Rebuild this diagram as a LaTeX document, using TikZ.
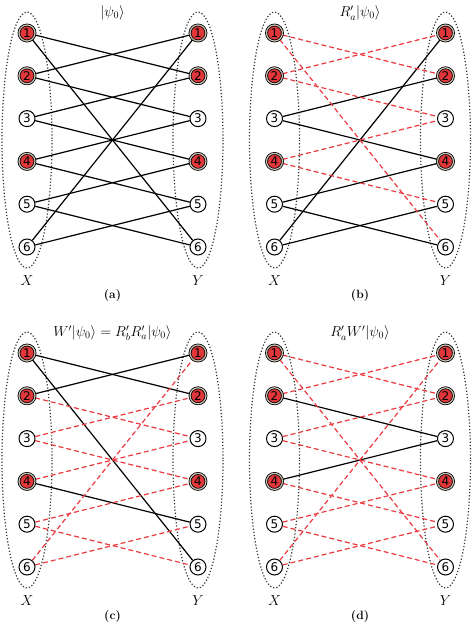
\documentclass[tikz,border=0pt]{standalone}
\usepackage{fontspec}
\usepackage{amsmath}
\usepackage{tikz}
\usetikzlibrary{backgrounds}
\newfontfamily\digitfont{DejaVu Sans}
\definecolor{nodered}{HTML}{E0373A}
\definecolor{dashred}{HTML}{EA3A40}
\definecolor{ringgray}{HTML}{C9C0B4}

\begin{document}
\begin{tikzpicture}[
    x=1pt, y=-1pt,
    vtx/.style={circle, draw, line width=1pt, fill=white, minimum size=16pt, inner sep=0pt, font=\digitfont\fontsize{12}{14}\selectfont},
    hot/.style={vtx, fill=nodered, double=ringgray, double distance=1.2pt, line width=0.8pt},
    link/.style={line width=1.2pt},
    flip/.style={line width=1.2pt, draw=dashred, dash pattern=on 5pt off 3pt},
    part/.style={dotted, line width=1.2pt, draw=black!80},
    side/.style={font=\Large},
    tag/.style={font=\bfseries\large},
]
    \useasboundingbox (0,0) rectangle (474,624);

    % panels: name / shift / state
    \foreach \p/\dx/\dy/\ttl/\lbl in {a/0/0/{$|\psi_0\rangle$}/(a),
                                      b/247.5/0/{$R'_a|\psi_0\rangle$}/(b),
                                      c/0/320/{$W'|\psi_0\rangle = R'_bR'_a|\psi_0\rangle$}/(c),
                                      d/247.5/320/{$R'_aW'|\psi_0\rangle$}/(d)} {
        \begin{scope}[on background layer]
            \draw[part] ({\dx+27},{\dy+140}) ellipse (25 and 128);
            \draw[part] ({\dx+198},{\dy+140}) ellipse (25 and 128);
        \end{scope}
        \foreach \i/\s in {1/hot,2/hot,3/vtx,4/hot,5/vtx,6/vtx} {
            \node[\s] (\p x\i) at ({\dx+27},{\dy+33+42.8*(\i-1)}) {\i};
            \node[\s] (\p y\i) at ({\dx+198},{\dy+33+42.8*(\i-1)}) {\i};
        }
        \node[side] (\p title) at ({\dx+112.5},{\dy+13}) {\ttl};
        \node[side] (\p X) at ({\dx+27},{\dy+281}) {$X$};
        \node[side] (\p Y) at ({\dx+198},{\dy+281}) {$Y$};
        \node[tag] (\p tag) at ({\dx+112.5},{\dy+296}) {\lbl};
    }

    \begin{scope}[on background layer]
        % (a)
        \foreach \u/\v in {1/2,1/6,2/1,2/3,3/2,3/4,4/3,4/5,5/4,5/6,6/1,6/5}
            \draw[link] (ax\u) -- (ay\v);
        % (b)
        \foreach \u/\v in {3/2,3/4,5/4,5/6,6/1,6/5}
            \draw[link] (bx\u) -- (by\v);
        \foreach \u/\v in {1/2,1/6,2/1,2/3,4/3,4/5}
            \draw[flip] (bx\u) -- (by\v);
        % (c)
        \foreach \u/\v in {1/2,1/6,2/1,4/5}
            \draw[link] (cx\u) -- (cy\v);
        \foreach \u/\v in {2/3,3/2,3/4,4/3,5/4,5/6,6/1,6/5}
            \draw[flip] (cx\u) -- (cy\v);
        % (d)
        \foreach \u/\v in {2/3,4/3}
            \draw[link] (dx\u) -- (dy\v);
        \foreach \u/\v in {1/2,1/6,2/1,3/2,3/4,4/5,5/4,5/6,6/1,6/5}
            \draw[flip] (dx\u) -- (dy\v);
    \end{scope}
\end{tikzpicture}
\end{document}
